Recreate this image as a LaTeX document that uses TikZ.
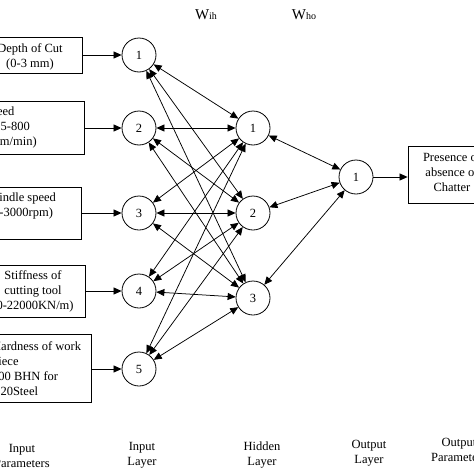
\documentclass[tikz,border=0pt]{standalone}
\usepackage{fontspec}
\setmainfont{Liberation Serif}
\usetikzlibrary{arrows.meta}
\begin{document}
\begin{tikzpicture}[x=1pt,y=-1pt,
  every node/.style={font=\fontsize{12.5}{15}\selectfont},
  neuron/.style={circle,draw,line width=0.8pt,minimum size=34pt,inner sep=0pt},
  inbox/.style={draw,line width=0.8pt,inner sep=0pt},
  txt/.style={inner sep=0pt,align=center},
  link/.style={line width=0.75pt,{Triangle[length=8pt,width=7pt]}-{Triangle[length=8pt,width=7pt]}},
  feed/.style={line width=0.75pt,-{Triangle[length=8pt,width=7pt]}}]
\useasboundingbox (0,0) rectangle (474,474);
\clip (0,0) rectangle (474,474);
% input boxes
\node[inbox,minimum width=122pt,minimum height=36pt] (b1) at (21,55) {};
\node[inbox,minimum width=124pt,minimum height=53pt] (b2) at (22,127.5) {};
\node[inbox,minimum width=121pt,minimum height=52pt] (b3) at (20.5,213) {};
\node[inbox,minimum width=125pt,minimum height=52pt] (b4) at (22.5,291) {};
\node[inbox,minimum width=131pt,minimum height=68pt] (b5) at (25.5,368) {};
\node[txt] (t1) at (30,56.5) {Depth of Cut\\(0-3 mm)};
\node[txt,anchor=west,align=left] (t2) at (-10,127.5) {Feed\\(25-800\\mm/min)};
\node[txt] (t3) at (21,205.5) {Spindle speed\\(0-3000rpm)};
\node[txt] (t4) at (33,291.5) {Stiffness of\\cutting tool\\(0-22000KN/m)};
\node[txt,anchor=west,align=left] (t5) at (-8,368.5) {Hardness of work\\piece\\200 BHN for\\C20Steel};
% output box
\node[inbox,minimum width=92pt,minimum height=57pt] (ob) at (454,174.5) {};
\node[txt] (ot) at (452,172.5) {Presence or\\absence of\\Chatter};
% neurons
\node[neuron] (i1) at (139,55) {1};
\node[neuron] (i2) at (139,128) {2};
\node[neuron] (i3) at (139,213) {3};
\node[neuron] (i4) at (139,291) {4};
\node[neuron] (i5) at (139,369) {5};
\node[neuron] (h1) at (253,128) {1};
\node[neuron] (h2) at (253,213) {2};
\node[neuron] (h3) at (253,298) {3};
\node[neuron] (o1) at (356,177) {1};
% connectors
\foreach \k in {1,...,5} \draw[feed] (b\k.east |- i\k) -- (i\k);
\foreach \a in {1,...,5} \foreach \b in {1,2,3} \draw[link] (i\a) -- (h\b);
\foreach \b in {1,2,3} \draw[link] (h\b) -- (o1);
\draw[feed] (o1) -- (ob.west |- o1);
% labels
\node (wih) at (206,15) {\fontsize{15}{15}\selectfont W\fontsize{10}{10}\selectfont ih};
\node (who) at (304,15) {\fontsize{15}{15}\selectfont W\fontsize{10}{10}\selectfont ho};
\node[txt] (l1) at (22,455.5) {Input\\Parameters};
\node[txt] (l2) at (142,455.5) {Input\\Layer};
\node[txt] (l3) at (262,455) {Hidden\\Layer};
\node[txt] (l4) at (369,453.5) {Output\\Layer};
\node[txt] (l5) at (459,450) {Output\\Parameters};
\end{tikzpicture}
\end{document}
